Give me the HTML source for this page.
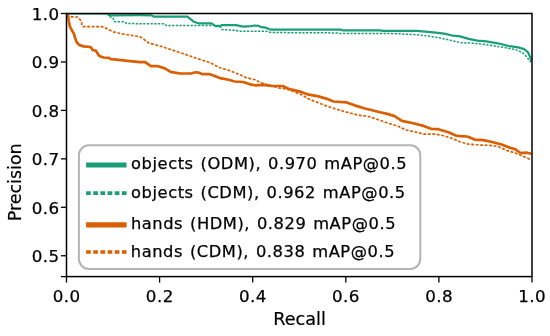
<!DOCTYPE html>
<html><head><meta charset="utf-8"><title>Precision-Recall</title>
<style>
html,body{margin:0;padding:0;background:#fff;}
svg{display:block;}
text{font-family:"DejaVu Sans","Liberation Sans",sans-serif;font-size:17px;fill:#000;stroke:#000;stroke-width:0.2px;}
.lg text{font-size:16.3px;letter-spacing:0.55px;word-spacing:1.2px;stroke:#000;stroke-width:0.25px;}
.tk text{font-size:16.7px;letter-spacing:0.45px;stroke:#000;stroke-width:0.25px;}
</style></head><body>
<svg width="550" height="336" viewBox="0 0 550 336">
<rect width="550" height="336" fill="#fff"/>
<defs><clipPath id="ax"><rect x="66.5" y="13.5" width="465.5" height="263.1"/></clipPath></defs>
<g clip-path="url(#ax)" fill="none" stroke-linejoin="round">
<polyline points="67.0,13.5 107.5,13.5 109.5,15.3 140.0,15.2 151.7,15.3 153.8,16.7 187.4,16.7 193.9,21.8 198.3,23.3 211.4,23.3 215.8,26.2 220.0,26.2 221.5,25.2 236.0,25.2 243.3,26.7 250.6,26.2 255.0,25.5 258.0,25.8 261.5,27.2 265.9,27.7 270.3,29.6 300.0,29.6 340.8,29.6 342.3,30.3 380.0,30.3 383.0,30.9 416.4,30.9 428.0,31.8 438.3,32.8 445.6,33.9 452.9,35.7 460.0,36.4 468.7,38.9 477.5,40.7 486.2,41.4 497.9,43.3 509.5,46.2 518.3,47.4 524.1,49.1 527.8,52.1 529.9,56.4 531.4,61.5" stroke="#1b9e77" stroke-width="2.2"/>
<polyline points="67.0,13.5 107.5,13.5 109.0,16.5 113.0,17.8 114.3,21.6 124.2,21.8 126.9,23.5 140.0,23.7 164.0,23.7 166.2,25.5 220.0,25.5 222.0,29.6 236.0,30.2 238.2,31.3 266.6,31.3 270.3,32.4 300.0,32.8 337.9,32.9 339.3,33.4 380.0,33.4 397.5,33.7 416.4,34.7 431.0,36.4 441.2,38.3 452.9,40.8 460.0,42.6 474.6,43.3 489.1,45.1 503.7,47.4 515.4,49.6 522.7,52.8 527.0,57.2 530.7,62.3" stroke="#1b9e77" stroke-width="1.5" stroke-dasharray="2.3 1.4"/>
<polyline points="67.6,14.0 68.8,21.0 69.9,26.5 71.9,30.4 73.9,33.7 75.0,37.5 76.5,41.9 79.1,44.9 83.5,46.4 90.6,47.0 92.8,50.2 95.7,50.5 99.3,56.0 103.7,57.5 108.8,57.8 111.0,59.2 121.2,60.1 129.9,61.1 140.0,62.1 145.1,62.1 150.9,66.2 158.2,66.2 164.8,68.4 170.6,71.8 180.1,73.5 191.0,73.5 195.4,72.3 198.3,72.5 202.7,74.2 209.9,74.2 220.0,78.1 228.7,79.8 234.6,81.5 243.3,82.0 249.1,84.1 255.0,85.3 263.7,84.9 271.0,85.9 282.7,86.0 288.5,88.8 300.0,91.6 308.7,94.7 317.5,96.1 326.2,98.6 333.5,101.5 346.6,102.4 355.4,105.6 364.1,108.2 380.0,112.3 387.3,113.9 394.6,116.1 401.9,120.9 412.1,123.0 423.7,125.9 431.0,128.8 438.3,129.2 448.5,132.2 455.8,135.5 460.0,136.2 467.3,136.5 474.6,139.6 483.3,140.1 492.1,142.0 500.8,144.2 509.5,147.6 515.4,149.3 520.5,153.0 527.0,152.7 531.4,153.7" stroke="#d95f02" stroke-width="2.7"/>
<polyline points="67.5,14.5 69.0,16.8 77.8,17.1 81.5,21.4 81.9,25.5 83.5,26.7 102.4,26.7 106.9,28.6 113.3,31.8 121.2,33.7 140.0,36.8 145.8,40.7 148.7,43.0 161.9,46.6 175.0,51.0 183.7,53.8 198.3,58.9 209.9,62.6 220.0,67.8 228.7,70.3 237.5,73.7 246.2,77.6 255.0,79.8 260.8,82.7 269.5,85.3 278.3,87.8 287.0,89.2 300.0,94.0 308.7,99.0 317.5,102.4 326.2,105.9 336.4,109.2 346.6,112.2 358.3,115.1 368.5,116.5 380.0,120.3 388.7,123.4 397.5,125.9 406.2,130.0 416.4,132.2 423.7,134.1 435.4,134.1 444.1,135.8 452.9,138.7 460.0,141.8 468.7,144.2 478.9,145.0 489.1,145.3 497.9,146.4 506.6,150.4 515.4,153.0 522.7,156.2 529.9,159.2" stroke="#d95f02" stroke-width="1.7" stroke-dasharray="2.9 1.6"/>
</g>
<rect x="78.9" y="145.3" width="341.4" height="123.6" rx="10" ry="10" fill="#fff" fill-opacity="0.8" stroke="#b4b4b4" stroke-width="2"/>
<line x1="86.1" x2="126.6" y1="165" y2="165" stroke="#1b9e77" stroke-width="5"/>
<line x1="86.1" x2="126.6" y1="193.15" y2="193.15" stroke="#1b9e77" stroke-width="3.6" stroke-dasharray="4.7 2.46"/>
<line x1="86.1" x2="126.6" y1="224.9" y2="224.9" stroke="#d95f02" stroke-width="5.3"/>
<line x1="86.1" x2="126.6" y1="252.1" y2="252.1" stroke="#d95f02" stroke-width="3.5" stroke-dasharray="4.7 2.46"/>
<g class="lg">
<text x="131.1" y="169.2">objects (ODM), 0.970 mAP@0.5</text>
<text x="131.1" y="197.9">objects (CDM), 0.962 mAP@0.5</text>
<text x="130.9" y="229.0">hands (HDM), 0.829 mAP@0.5</text>
<text x="130.8" y="256.7">hands (CDM), 0.838 mAP@0.5</text>
</g>
<rect x="66.5" y="13.5" width="465.5" height="263.1" fill="none" stroke="#000" stroke-width="1.5"/>
<g stroke="#000" stroke-width="1.3">
<line x1="60.9" x2="66.5" y1="13.5" y2="13.5"/><line x1="60.9" x2="66.5" y1="61.95" y2="61.95"/><line x1="60.9" x2="66.5" y1="110.4" y2="110.4"/><line x1="60.9" x2="66.5" y1="158.85" y2="158.85"/><line x1="60.9" x2="66.5" y1="207.3" y2="207.3"/><line x1="60.9" x2="66.5" y1="255.75" y2="255.75"/><line x1="60.9" x2="66.5" y1="276.6" y2="276.6"/><line x1="66.5" x2="66.5" y1="276.6" y2="282.6"/><line x1="159.6" x2="159.6" y1="276.6" y2="282.6"/><line x1="252.7" x2="252.7" y1="276.6" y2="282.6"/><line x1="345.8" x2="345.8" y1="276.6" y2="282.6"/><line x1="438.9" x2="438.9" y1="276.6" y2="282.6"/><line x1="532.0" x2="532.0" y1="276.6" y2="282.6"/>
</g>
<g class="tk"><text x="59.6" y="19.7" text-anchor="end">1.0</text><text x="59.6" y="68.2" text-anchor="end">0.9</text><text x="59.6" y="116.6" text-anchor="end">0.8</text><text x="59.6" y="165.0" text-anchor="end">0.7</text><text x="59.6" y="213.5" text-anchor="end">0.6</text><text x="59.6" y="261.9" text-anchor="end">0.5</text>
<text x="66.7" y="301.5" text-anchor="middle">0.0</text><text x="159.8" y="301.5" text-anchor="middle">0.2</text><text x="252.9" y="301.5" text-anchor="middle">0.4</text><text x="346.0" y="301.5" text-anchor="middle">0.6</text><text x="439.1" y="301.5" text-anchor="middle">0.8</text><text x="532.2" y="301.5" text-anchor="middle">1.0</text></g>
<text transform="translate(299.5,324.9) scale(1.04,1)" text-anchor="middle">Recall</text>
<text transform="translate(20.8,182.3) rotate(-90) scale(1.026,1)" text-anchor="middle">Precision</text>
</svg>
</body></html>
